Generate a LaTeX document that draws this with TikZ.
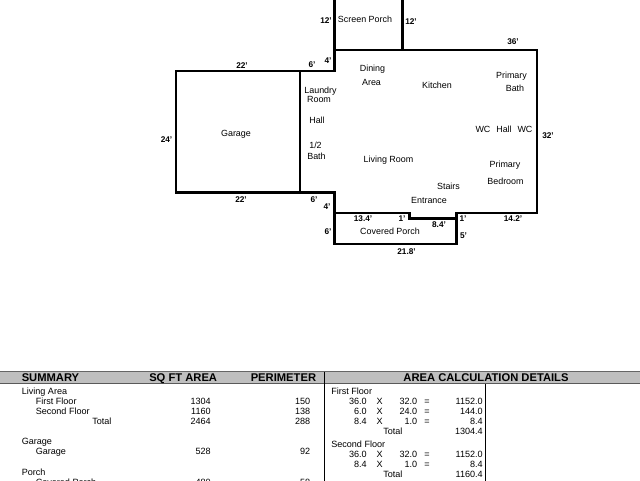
\documentclass[tikz,border=0pt]{standalone}
\usepackage{fontspec}
\setmainfont{Liberation Sans}
\usetikzlibrary{
    positioning
}
\tikzset{
  wall/.style={line width=2.1pt, line join=miter},
  room/.style={font=\fontsize{6.7}{7}\selectfont, inner sep=0pt},
  dimen/.style={font=\fontsize{6.2}{7}\selectfont\bfseries, inner sep=0pt},
  headtext/.style={font=\fontsize{8.4}{9}\selectfont\bfseries, inner sep=0pt},
  cell/.style={font=\fontsize{6.8}{7}\selectfont, inner sep=0pt, anchor=base west},
  cellr/.style={font=\fontsize{6.8}{7}\selectfont, inner sep=0pt, anchor=base east}
}

\begin{document}
\begin{tikzpicture}[x=0.75pt, y=-0.75pt]

  \useasboundingbox (0,0) rectangle (640,480);
  \clip (0,0) rectangle (640,480);
  \fill[white] (0,0) rectangle (640,480);

  % plan {{{
  \draw[wall] (176,71) rectangle (300,192.7);
  \draw[wall] (300,71) -- (334.3,71) -- (334.3,50) -- (537,50) -- (537,213)
    -- (456.7,213) -- (456.7,218.7) -- (409.3,218.7) -- (409.3,213) -- (334.3,213)
    -- (334.3,192.7) -- (300,192.7);
  \draw[wall] (334.3,-5) -- (334.3,50);
  \draw[wall] (402.3,-5) -- (402.3,50);
  \draw[wall] (334.3,213) -- (334.3,244) -- (456.7,244) -- (456.7,218.7);
  % }}}

  % rooms {{{
  \node[room] (screenporch) at (365,19) {Screen Porch};
  \node[room] (dining) at (372.5,69) {Dining};
  \node[room] (dinarea) at (371.5,82) {Area};
  \node[room] (kitchen) at (437,85) {Kitchen};
  \node[room] (primbath) at (511.5,76) {Primary};
  \node[room] (primbath2) at (515,88) {Bath};
  \node[room] (laundry) at (320.5,91) {Laundry};
  \node[room] (laundry2) at (319,99) {Room};
  \node[room] (hall) at (317,120) {Hall};
  \node[room] (garage) at (236,134) {Garage};
  \node[room] (wc) at (483,129) {WC};
  \node[room] (hall2) at (504,129) {Hall};
  \node[room] (wc2) at (525,129) {WC};
  \node[room] (halfbath) at (315.5,145) {1/2};
  \node[room] (halfbath2) at (316.5,156) {Bath};
  \node[room] (living) at (388.5,160) {Living Room};
  \node[room] (primbed) at (505,165) {Primary};
  \node[room] (primbed2) at (505.5,181) {Bedroom};
  \node[room] (stairs) at (448.5,186) {Stairs};
  \node[room] (entrance) at (429,200.5) {Entrance};
  \node[room] (covporch) at (390,231) {Covered Porch};
  % }}}

  % dimensions {{{
  \node[dimen] (d12a) at (326,20.5) {12'};
  \node[dimen] (d12b) at (411,21.5) {12'};
  \node[dimen] (d36) at (513,42) {36'};
  \node[dimen] (d22a) at (242,65.5) {22'};
  \node[dimen] (d6a) at (312,64.5) {6'};
  \node[dimen] (d4a) at (328,60.5) {4'};
  \node[dimen] (d24) at (166.5,140) {24'};
  \node[dimen] (d32) at (548,136) {32'};
  \node[dimen] (d22b) at (241,200) {22'};
  \node[dimen] (d6b) at (314,200) {6'};
  \node[dimen] (d4b) at (327,207) {4'};
  \node[dimen] (d134) at (363,219) {13.4'};
  \node[dimen] (d1a) at (402,219) {1'};
  \node[dimen] (d84) at (439,224.5) {8.4'};
  \node[dimen] (d1b) at (463,219) {1'};
  \node[dimen] (d142) at (513,219) {14.2'};
  \node[dimen] (d6c) at (328,232) {6'};
  \node[dimen] (d5) at (463.5,236) {5'};
  \node[dimen] (d218) at (406.5,252) {21.8'};
  % }}}

  % table frame {{{
  \fill[black!25] (0,371.5) rectangle (640,383.5);
  \draw[black!60, line width=0.8pt] (0,371.5) -- (640,371.5);
  \draw[black!65, line width=0.8pt] (0,383.5) -- (640,383.5);
  \draw[black, line width=0.7pt] (324,371.5) -- (324,485);
  \draw[black, line width=0.7pt] (485.7,383.5) -- (485.7,485);
  % }}}

  % table head {{{
  \node[headtext, anchor=base west] (summary) at (21.5,381) {SUMMARY};
  \node[headtext, anchor=base west] (sqft) at (149,381) {SQ FT AREA};
  \node[headtext, anchor=base west] (perim) at (250.5,381) {PERIMETER};
  \node[headtext, anchor=base] (details) at (486,381) {AREA CALCULATION DETAILS};
  % }}}

  % summary {{{
  \node[cell] (livingarea) at (21.5,394.5) {Living Area};
  \node[cell] (first) at (35.5,404.5) {First Floor};
  \node[cell] (second) at (35.5,414.5) {Second Floor};
  \node[cell] (total) at (92,424.5) {Total};
  \node[cell] (garagehd) at (21.5,444.5) {Garage};
  \node[cell] (garagerow) at (35.5,454.5) {Garage};
  \node[cell] (porchhd) at (21.5,475.5) {Porch};
  \node[cell] (porchrow) at (35.5,485.5) {Covered Porch};
  \foreach \val/\ypos in {1304/404.5, 1160/414.5, 2464/424.5, 528/454.5, 480/485.5}
    \node[cellr] (area\val) at (211,\ypos) {\val};
  \foreach \val/\ypos in {150/404.5, 138/414.5, 288/424.5, 92/454.5, 58/485.5}
    \node[cellr] (per\val) at (310.5,\ypos) {\val};
  % }}}

  % details {{{
  \node[cell] (firsthd) at (331,394.5) {First Floor};
  \node[cell] (secondhd) at (331,447) {Second Floor};
  \foreach \wid/\len/\res/\ypos in {36.0/32.0/1152.0/404.5, 6.0/24.0/144.0/414.5, 8.4/1.0/8.4/424.5,
      36.0/32.0/1152.0/457, 8.4/1.0/8.4/467} {
    \node[cellr] at (367,\ypos) {\wid};
    \node[cellr] at (383,\ypos) {X};
    \node[cellr] at (417.5,\ypos) {\len};
    \node[cellr] at (430,\ypos) {=};
    \node[cellr] at (483,\ypos) {\res};
  }
  \node[cell] (total1) at (383,434) {Total};
  \node[cellr] (sum1) at (483,434) {1304.4};
  \node[cell] (total2) at (383,477.5) {Total};
  \node[cellr] (sum2) at (483,477.5) {1160.4};
  % }}}

\end{tikzpicture}
\end{document}
